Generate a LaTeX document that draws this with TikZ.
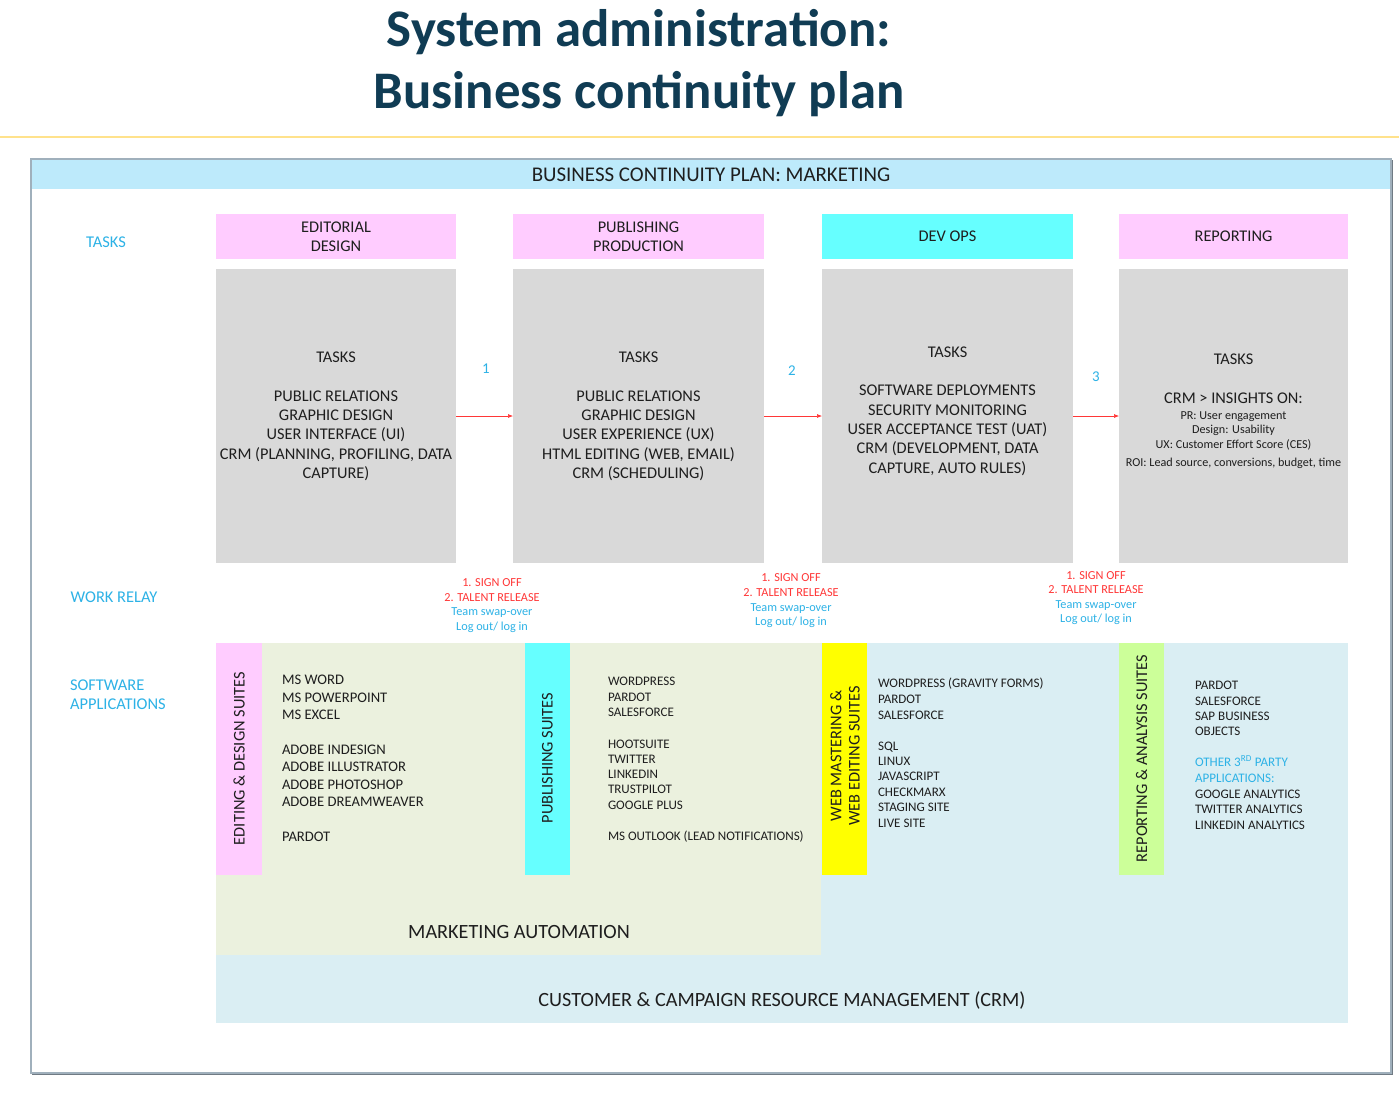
\documentclass[tikz,border=0pt]{standalone}
\usepackage{fontspec}
\setmainfont{Carlito}
\usetikzlibrary{arrows.meta}
\definecolor{titleblue}{RGB}{16,60,84}
\definecolor{rule}{RGB}{255,226,140}
\definecolor{frame}{RGB}{160,176,188}
\definecolor{hdrblue}{RGB}{189,234,251}
\definecolor{pinkbox}{RGB}{255,204,255}
\definecolor{cyanbox}{RGB}{102,255,255}
\definecolor{graybox}{RGB}{217,217,217}
\definecolor{magreen}{RGB}{235,241,222}
\definecolor{crmblue}{RGB}{218,238,243}
\definecolor{yellowbar}{RGB}{255,255,0}
\definecolor{greenbar}{RGB}{204,255,153}
\definecolor{lblblue}{RGB}{45,178,230}
\definecolor{relred}{RGB}{255,55,55}
\definecolor{txt}{RGB}{30,30,30}
\newcommand\fsz[1]{\fontsize{#1}{#1}\selectfont}
\begin{document}
\begin{tikzpicture}[x=1bp,y=-1bp,
  every node/.style={inner sep=0pt,outer sep=0pt},
  area/.style={draw=none},
  lbl/.style={text=lblblue,font=\fsz{16.5}},
  tasktxt/.style={text=txt,font=\fsz{16.4},anchor=base},
  smalltxt/.style={text=txt,font=\fsz{12.2},anchor=base},
  reltxt/.style={font=\fsz{12.3},anchor=base},
  listA/.style={text=txt,font=\fsz{14.7},anchor=base west},
  listB/.style={text=txt,font=\fsz{13.1},anchor=base west},
  flow/.style={draw=relred,line width=0.6bp,-{Latex[length=5bp,width=4bp]}},
  vlab/.style={text=txt,font=\fsz{16.4},rotate=90,align=center}
]
\useasboundingbox (0,0) rectangle (1399,1092);
\fill[white] (0,0) rectangle (1399,1092);

% title
\node[anchor=base,text=titleblue,font=\bfseries\fsz{53}] (title1) at (639,46) {System administration:};
\node[anchor=base,text=titleblue,font=\bfseries\fsz{53}] (title2) at (639,108) {Business continuity plan};
\draw[rule,line width=1.5bp] (0,137) -- (1399,137);

% frame and header band
\node[area,fill=hdrblue,minimum width=1360bp,minimum height=30bp] (band) at (711,174) {};
\node[anchor=base,text=txt,font=\fsz{21}] (bandtxt) at (711,181) {BUSINESS CONTINUITY PLAN: MARKETING};
\draw[frame,line width=1.2bp] (31,159) rectangle (1391,1073);
\draw[frame!70!black,line width=0.6bp] (32,1074.5) -- (1392.5,1074.5) -- (1392.5,160);

% row labels
\node[lbl,anchor=base] (lt) at (106,247.5) {TASKS};
\node[lbl,anchor=base] (lw) at (114,602.5) {WORK RELAY};
\node[lbl,anchor=base west] (ls1) at (70,690.5) {SOFTWARE};
\node[lbl,anchor=base west] (ls2) at (70,709.5) {APPLICATIONS};

% task headers
\node[area,fill=pinkbox,minimum width=240bp,minimum height=45bp] (h1) at (336,236.5) {};
\node[area,fill=pinkbox,minimum width=251bp,minimum height=45bp] (h2) at (638.5,236.5) {};
\node[area,fill=cyanbox,minimum width=251bp,minimum height=45bp] (h3) at (947.5,236.5) {};
\node[area,fill=pinkbox,minimum width=229bp,minimum height=45bp] (h4) at (1233.5,236.5) {};
\node[tasktxt] (h1a) at (336,232.5) {EDITORIAL};
\node[tasktxt] (h1b) at (336,251.5) {DESIGN};
\node[tasktxt] (h2a) at (638.5,232.5) {PUBLISHING};
\node[tasktxt] (h2b) at (638.5,251.5) {PRODUCTION};
\node[tasktxt] (h3a) at (947.5,241.5) {DEV OPS};
\node[tasktxt] (h4a) at (1233.5,241.5) {REPORTING};

% task boxes
\node[area,fill=graybox,minimum width=240bp,minimum height=294bp] (t1) at (336,416) {};
\node[area,fill=graybox,minimum width=251bp,minimum height=294bp] (t2) at (638.5,416) {};
\node[area,fill=graybox,minimum width=251bp,minimum height=294bp] (t3) at (947.5,416) {};
\node[area,fill=graybox,minimum width=229bp,minimum height=294bp] (t4) at (1233.5,416) {};

\foreach \yy/\txt [count=\i] in {362.5/TASKS, 401.5/PUBLIC RELATIONS, 420.5/GRAPHIC DESIGN, 439.5/USER INTERFACE (UI), 459.5/{CRM (PLANNING, PROFILING, DATA}, 478.5/CAPTURE)}
  \node[tasktxt] (ta\i) at (336,\yy) {\txt};
\foreach \yy/\txt [count=\i] in {362.5/TASKS, 401.5/PUBLIC RELATIONS, 420.5/GRAPHIC DESIGN, 439.5/USER EXPERIENCE (UX), 459.5/{HTML EDITING (WEB, EMAIL)}, 478.5/CRM (SCHEDULING)}
  \node[tasktxt] (tb\i) at (638.5,\yy) {\txt};
\foreach \yy/\txt [count=\i] in {357.5/TASKS, 395.5/SOFTWARE DEPLOYMENTS, 415.5/SECURITY MONITORING, 434.5/USER ACCEPTANCE TEST (UAT), 453.5/{CRM (DEVELOPMENT, DATA}, 473.5/{CAPTURE, AUTO RULES)}}
  \node[tasktxt] (tc\i) at (947.5,\yy) {\txt};
\node[tasktxt] (td1) at (1233.5,364.5) {TASKS};
\node[tasktxt] (td2) at (1233.5,403.5) {CRM > INSIGHTS ON:};
\foreach \yy/\txt [count=\i] in {419/PR: User engagement, 433/Design: Usability, 448/UX: Customer Effort Score (CES), 466/{ROI: Lead source, conversions, budget, time}}
  \node[smalltxt] (te\i) at (1233.5,\yy) {\txt};

% flow arrows
\draw[flow] (t1) -- (t2);
\draw[flow] (t2) -- (t3);
\draw[flow] (t3) -- (t4);
\node[lbl,anchor=base,font=\fsz{15}] (n1) at (486,373) {1};
\node[lbl,anchor=base,font=\fsz{15}] (n2) at (792,375) {2};
\node[lbl,anchor=base,font=\fsz{15}] (n3) at (1096,381) {3};

% work relay texts
\foreach \x/\ya/\yb/\yc/\yd [count=\i] in {492/586/601/615/630, 791/581/596/611/625, 1096/579/593/608/622}{
  \node[reltxt,text=relred] (ra\i) at (\x,\ya) {1. SIGN OFF};
  \node[reltxt,text=relred] (rb\i) at (\x,\yb) {2. TALENT RELEASE};
  \node[reltxt,text=lblblue] (rc\i) at (\x,\yc) {Team swap-over};
  \node[reltxt,text=lblblue] (rd\i) at (\x,\yd) {Log out/ log in};
}

% software areas
\node[area,fill=crmblue,minimum width=1132bp,minimum height=380bp] (crm) at (782,833) {};
\node[area,fill=magreen,minimum width=605bp,minimum height=312bp] (ma) at (518.5,799) {};
\node[area,fill=pinkbox,minimum width=46bp,minimum height=232bp] (b1) at (239,759) {};
\node[area,fill=cyanbox,minimum width=45bp,minimum height=232bp] (b2) at (547.5,759) {};
\node[area,fill=yellowbar,minimum width=45bp,minimum height=232bp] (b3) at (844.5,759) {};
\node[area,fill=greenbar,minimum width=45bp,minimum height=232bp] (b4) at (1141.5,759) {};
\node[vlab] (v1) at (239,758.5) {EDITING \& DESIGN SUITES};
\node[vlab] (v2) at (547.5,758) {PUBLISHING SUITES};
\node[vlab,font=\fontsize{16.4}{18.5}\selectfont] (v3) at (845,756) {WEB MASTERING \&\\WEB EDITING SUITES};
\node[vlab] (v4) at (1141.5,758.5) {REPORTING \& ANALYSIS SUITES};

\foreach \yy/\txt [count=\i] in {684.7/MS WORD, 702.7/MS POWERPOINT, 719.7/MS EXCEL, 754.7/ADOBE INDESIGN, 771.7/ADOBE ILLUSTRATOR, 789.7/ADOBE PHOTOSHOP, 806.7/ADOBE DREAMWEAVER, 841.7/PARDOT}
  \node[listA] (sa\i) at (282,\yy) {\txt};
\foreach \yy/\txt [count=\i] in {685/WORDPRESS, 701/PARDOT, 716/SALESFORCE, 748/HOOTSUITE, 763/TWITTER, 778/LINKEDIN, 793/TRUSTPILOT, 809/GOOGLE PLUS, 840/MS OUTLOOK (LEAD NOTIFICATIONS)}
  \node[listB] (sb\i) at (608,\yy) {\txt};
\foreach \yy/\txt [count=\i] in {687/WORDPRESS (GRAVITY FORMS), 703/PARDOT, 719/SALESFORCE, 750/SQL, 765/LINUX, 780/JAVASCRIPT, 796/CHECKMARX, 811/STAGING SITE, 827/LIVE SITE}
  \node[listB] (sc\i) at (878,\yy) {\txt};
\foreach \yy/\txt [count=\i] in {689/PARDOT, 705/SALESFORCE, 720/SAP BUSINESS, 735/OBJECTS, 798/GOOGLE ANALYTICS, 813/TWITTER ANALYTICS, 829/LINKEDIN ANALYTICS}
  \node[listB] (sd\i) at (1195,\yy) {\txt};
\node[listB,text=lblblue] (se1) at (1195,766) {OTHER 3\textsuperscript{RD} PARTY};
\node[listB,text=lblblue] (se2) at (1195,782) {APPLICATIONS:};

\node[anchor=base,text=txt,font=\fsz{20.3}] (matxt) at (519,938.5) {MARKETING AUTOMATION};
\node[anchor=base,text=txt,font=\fsz{20.3}] (crmtxt) at (782,1006.5) {CUSTOMER \& CAMPAIGN RESOURCE MANAGEMENT (CRM)};
\end{tikzpicture}
\end{document}
